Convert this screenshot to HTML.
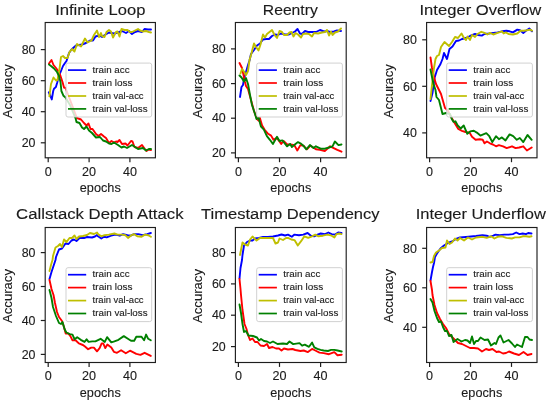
<!DOCTYPE html>
<html><head><meta charset="utf-8"><style>
html,body{margin:0;padding:0;background:#fff;width:550px;height:403px;overflow:hidden}
svg{will-change:transform} svg text{font-family:"Liberation Sans", sans-serif;stroke:#1b1b1b;stroke-width:0.12px}
</style></head><body>
<svg width="550" height="403" viewBox="0 0 550 403" style="display:block">
<rect width="550" height="403" fill="#fff"/>
<clipPath id="c0"><rect x="45.2" y="22.5" width="110.2" height="135.3"/></clipPath>
<g clip-path="url(#c0)" fill="none" stroke-width="1.9" stroke-linejoin="round" stroke-linecap="round">
<polyline points="48.8,92.3 51.0,97.5 51.8,99.4 53.2,91.0 54.0,88.7 55.9,87.1 57.3,82.2 58.5,77.0 61.0,71.0 63.0,66.0 65.0,63.0 66.5,61.0 69.0,53.0 71.5,49.5 76.0,45.5 82.0,44.5 86.0,43.0 90.0,40.5 93.0,40.5 95.5,36.5 99.0,35.5 102.0,37.0 104.0,35.5 109.0,32.5 114.0,33.5 118.0,32.5 122.0,31.0 126.0,33.0 129.0,31.0 132.0,34.0 135.0,32.0 138.0,31.0 142.0,32.0 144.5,29.0 148.0,29.5 151.0,29.5" stroke="#0000ff"/>
<polyline points="49.0,63.5 51.5,60.0 53.5,65.0 56.0,68.0 58.5,71.5 60.5,76.0 62.5,82.0 64.0,87.5 65.5,88.0 72.0,105.0 76.5,117.0 77.0,118.0 81.0,119.5 84.0,123.0 86.5,125.5 88.5,123.5 90.5,129.0 92.5,129.0 96.0,134.0 98.5,136.0 101.0,134.0 104.0,136.5 106.0,138.0 109.0,143.0 111.5,141.0 114.0,142.5 116.0,141.5 117.5,142.0 119.5,140.0 122.0,144.0 125.5,143.5 127.5,145.5 131.0,141.0 132.5,141.5 134.5,147.0 138.0,148.0 142.0,145.0 144.5,148.5 146.5,151.0 148.5,149.5 151.0,150.0" stroke="#ff0000"/>
<polyline points="49.4,96.4 51.0,84.0 53.5,77.5 56.0,80.5 57.5,80.0 59.5,69.0 61.0,57.0 63.0,56.0 65.0,58.0 67.5,58.0 69.5,52.0 72.0,49.0 74.5,51.5 77.0,44.0 81.0,46.5 85.0,38.5 87.5,42.5 91.5,40.5 94.0,35.0 97.0,30.5 99.0,37.0 101.0,33.0 102.0,36.0 104.5,37.0 106.5,32.0 109.0,30.0 111.0,31.5 113.0,37.5 116.0,32.0 117.5,31.5 119.5,36.5 121.5,29.0 124.5,30.0 127.5,30.0 130.0,32.0 132.0,32.0 134.0,31.0 138.0,29.0 140.0,30.5 143.0,31.5 146.0,31.0 149.0,32.0 151.0,32.5" stroke="#bfbf00"/>
<polyline points="49.0,64.5 51.0,66.0 54.0,68.5 57.0,72.0 59.0,76.0 60.5,82.0 61.4,91.0 63.5,95.8 65.5,97.5 70.0,105.0 75.0,117.0 75.5,118.0 76.5,122.0 79.5,123.0 82.0,127.5 84.0,129.0 86.5,126.5 89.0,130.5 92.0,133.0 96.0,137.5 100.0,137.0 103.0,140.5 106.0,141.5 109.0,143.5 111.5,144.0 114.0,142.5 118.0,145.0 121.5,147.5 124.0,146.5 127.0,148.0 132.0,145.0 135.0,147.0 138.0,149.0 143.0,148.0 146.0,150.5 149.0,149.0 151.0,149.0" stroke="#008000"/>
</g>
<rect x="66.0" y="63.1" width="85.7" height="53.9" rx="2" ry="2" fill="#ffffff" fill-opacity="0.8" stroke="#cccccc" stroke-width="0.9"/>
<line x1="68.0" y1="70.1" x2="86.2" y2="70.1" stroke="#0000ff" stroke-width="1.7"/>
<text x="92.6" y="72.8" font-size="9.5" fill="#1b1b1b" textLength="37.0" lengthAdjust="spacingAndGlyphs">train acc</text>
<line x1="68.0" y1="83.0" x2="86.2" y2="83.0" stroke="#ff0000" stroke-width="1.7"/>
<text x="92.6" y="85.8" font-size="9.5" fill="#1b1b1b" textLength="40.0" lengthAdjust="spacingAndGlyphs">train loss</text>
<line x1="68.0" y1="96.0" x2="86.2" y2="96.0" stroke="#bfbf00" stroke-width="1.7"/>
<text x="92.6" y="98.7" font-size="9.5" fill="#1b1b1b" textLength="51.0" lengthAdjust="spacingAndGlyphs">train val-acc</text>
<line x1="68.0" y1="108.9" x2="86.2" y2="108.9" stroke="#008000" stroke-width="1.7"/>
<text x="92.6" y="111.6" font-size="9.5" fill="#1b1b1b" textLength="55.0" lengthAdjust="spacingAndGlyphs">train val-loss</text>
<rect x="45.2" y="22.5" width="110.2" height="135.3" fill="none" stroke="#1e1e1e" stroke-width="1.15"/>
<line x1="40.8" y1="142.8" x2="45.2" y2="142.8" stroke="#1e1e1e" stroke-width="1.2"/>
<text x="35.5" y="147.0" font-size="12.6" fill="#1b1b1b" text-anchor="end" textLength="13.8" lengthAdjust="spacingAndGlyphs">20</text>
<line x1="40.8" y1="111.7" x2="45.2" y2="111.7" stroke="#1e1e1e" stroke-width="1.2"/>
<text x="35.5" y="115.9" font-size="12.6" fill="#1b1b1b" text-anchor="end" textLength="13.8" lengthAdjust="spacingAndGlyphs">40</text>
<line x1="40.8" y1="80.7" x2="45.2" y2="80.7" stroke="#1e1e1e" stroke-width="1.2"/>
<text x="35.5" y="84.9" font-size="12.6" fill="#1b1b1b" text-anchor="end" textLength="13.8" lengthAdjust="spacingAndGlyphs">60</text>
<line x1="40.8" y1="49.6" x2="45.2" y2="49.6" stroke="#1e1e1e" stroke-width="1.2"/>
<text x="35.5" y="53.8" font-size="12.6" fill="#1b1b1b" text-anchor="end" textLength="13.8" lengthAdjust="spacingAndGlyphs">80</text>
<line x1="48.2" y1="157.8" x2="48.2" y2="162.2" stroke="#1e1e1e" stroke-width="1.2"/>
<text x="48.2" y="175.6" font-size="12.6" fill="#1b1b1b" text-anchor="middle" textLength="7" lengthAdjust="spacingAndGlyphs">0</text>
<line x1="89.1" y1="157.8" x2="89.1" y2="162.2" stroke="#1e1e1e" stroke-width="1.2"/>
<text x="89.1" y="175.6" font-size="12.6" fill="#1b1b1b" text-anchor="middle" textLength="14" lengthAdjust="spacingAndGlyphs">20</text>
<line x1="129.9" y1="157.8" x2="129.9" y2="162.2" stroke="#1e1e1e" stroke-width="1.2"/>
<text x="129.9" y="175.6" font-size="12.6" fill="#1b1b1b" text-anchor="middle" textLength="14" lengthAdjust="spacingAndGlyphs">40</text>
<text x="100.3" y="192.1" font-size="12.6" fill="#1b1b1b" text-anchor="middle" textLength="41" lengthAdjust="spacingAndGlyphs">epochs</text>
<text transform="translate(12.0,91.2) rotate(-90)" x="0" y="0" font-size="12.6" fill="#1b1b1b" text-anchor="middle" textLength="54" lengthAdjust="spacingAndGlyphs">Accuracy</text>
<text x="100.3" y="14.9" font-size="14.9" fill="#1b1b1b" text-anchor="middle" textLength="90.2" lengthAdjust="spacingAndGlyphs">Infinite Loop</text>
<clipPath id="c1"><rect x="235.4" y="22.5" width="110.79999999999998" height="135.3"/></clipPath>
<g clip-path="url(#c1)" fill="none" stroke-width="1.9" stroke-linejoin="round" stroke-linecap="round">
<polyline points="240.0,97.0 241.5,87.0 243.0,85.0 244.0,79.0 246.0,72.0 248.0,65.0 249.5,60.5 251.0,54.0 254.0,50.0 257.0,45.5 260.0,43.5 263.0,39.5 266.0,39.0 269.0,39.0 272.0,36.0 275.0,34.5 278.0,35.0 281.0,33.5 285.0,34.5 289.0,34.5 292.0,33.0 295.0,31.5 297.5,29.0 300.0,33.5 302.0,34.0 305.0,31.0 308.0,32.0 312.0,32.0 316.0,32.0 320.0,30.0 324.0,31.5 327.0,31.0 330.0,32.0 334.0,31.5 337.0,30.5 341.0,31.0" stroke="#0000ff"/>
<polyline points="239.5,63.0 242.0,68.0 243.5,75.0 245.0,82.0 246.0,86.0 248.0,89.0 251.0,100.0 254.0,111.0 257.0,119.0 258.6,120.7 259.8,117.7 262.1,125.5 264.5,129.6 268.1,133.8 271.1,135.6 273.5,139.8 276.4,138.0 278.8,140.4 281.2,143.9 283.6,141.0 287.1,144.5 290.7,144.5 294.3,145.1 297.3,150.5 300.4,145.1 303.4,145.7 306.9,149.3 310.5,145.7 315.9,149.3 320.0,149.9 324.8,151.1 330.1,146.3 333.7,148.1 337.3,149.9 341.5,151.7" stroke="#ff0000"/>
<polyline points="240.5,73.5 242.0,69.0 244.0,71.5 246.0,75.0 248.0,71.0 249.5,60.0 251.0,55.0 254.0,43.5 256.0,47.0 258.5,50.5 260.5,44.5 263.0,34.5 265.0,37.5 267.0,34.0 272.0,30.0 274.5,35.0 277.0,38.0 279.5,31.0 282.0,32.0 284.0,35.0 287.0,35.0 289.5,32.5 291.5,32.0 293.5,36.5 295.5,33.0 298.0,34.5 301.0,37.5 303.0,34.0 306.0,33.5 309.0,34.0 312.0,36.5 314.0,33.0 318.0,33.5 322.0,32.5 325.0,32.0 327.0,30.0 329.0,35.5 331.0,31.5 332.5,35.0 335.0,32.5 338.0,31.5 341.0,28.5" stroke="#bfbf00"/>
<polyline points="239.5,75.5 241.5,77.5 244.0,81.5 246.0,78.0 248.0,84.0 250.0,95.0 252.0,105.0 255.0,114.0 256.5,119.0 258.6,117.7 261.0,126.7 263.9,129.6 266.9,136.2 269.9,139.8 272.9,143.9 277.0,136.8 279.4,141.0 282.4,140.4 287.1,146.3 290.1,143.9 291.9,146.9 295.5,143.9 298.0,142.1 300.4,143.3 303.4,145.7 306.3,149.3 309.9,145.1 313.5,148.1 315.9,146.3 320.6,148.7 324.8,148.7 329.0,147.5 332.5,146.3 334.9,141.5 338.5,145.1 341.5,144.5" stroke="#008000"/>
</g>
<rect x="256.7" y="63.1" width="85.7" height="53.9" rx="2" ry="2" fill="#ffffff" fill-opacity="0.8" stroke="#cccccc" stroke-width="0.9"/>
<line x1="258.7" y1="70.1" x2="276.9" y2="70.1" stroke="#0000ff" stroke-width="1.7"/>
<text x="283.3" y="72.8" font-size="9.5" fill="#1b1b1b" textLength="37.0" lengthAdjust="spacingAndGlyphs">train acc</text>
<line x1="258.7" y1="83.0" x2="276.9" y2="83.0" stroke="#ff0000" stroke-width="1.7"/>
<text x="283.3" y="85.8" font-size="9.5" fill="#1b1b1b" textLength="40.0" lengthAdjust="spacingAndGlyphs">train loss</text>
<line x1="258.7" y1="96.0" x2="276.9" y2="96.0" stroke="#bfbf00" stroke-width="1.7"/>
<text x="283.3" y="98.7" font-size="9.5" fill="#1b1b1b" textLength="51.0" lengthAdjust="spacingAndGlyphs">train val-acc</text>
<line x1="258.7" y1="108.9" x2="276.9" y2="108.9" stroke="#008000" stroke-width="1.7"/>
<text x="283.3" y="111.6" font-size="9.5" fill="#1b1b1b" textLength="55.0" lengthAdjust="spacingAndGlyphs">train val-loss</text>
<rect x="235.4" y="22.5" width="110.79999999999998" height="135.3" fill="none" stroke="#1e1e1e" stroke-width="1.15"/>
<line x1="231.0" y1="152.9" x2="235.4" y2="152.9" stroke="#1e1e1e" stroke-width="1.2"/>
<text x="225.7" y="157.1" font-size="12.6" fill="#1b1b1b" text-anchor="end" textLength="13.8" lengthAdjust="spacingAndGlyphs">20</text>
<line x1="231.0" y1="118.2" x2="235.4" y2="118.2" stroke="#1e1e1e" stroke-width="1.2"/>
<text x="225.7" y="122.4" font-size="12.6" fill="#1b1b1b" text-anchor="end" textLength="13.8" lengthAdjust="spacingAndGlyphs">40</text>
<line x1="231.0" y1="83.6" x2="235.4" y2="83.6" stroke="#1e1e1e" stroke-width="1.2"/>
<text x="225.7" y="87.8" font-size="12.6" fill="#1b1b1b" text-anchor="end" textLength="13.8" lengthAdjust="spacingAndGlyphs">60</text>
<line x1="231.0" y1="48.9" x2="235.4" y2="48.9" stroke="#1e1e1e" stroke-width="1.2"/>
<text x="225.7" y="53.1" font-size="12.6" fill="#1b1b1b" text-anchor="end" textLength="13.8" lengthAdjust="spacingAndGlyphs">80</text>
<line x1="238.4" y1="157.8" x2="238.4" y2="162.2" stroke="#1e1e1e" stroke-width="1.2"/>
<text x="238.4" y="175.6" font-size="12.6" fill="#1b1b1b" text-anchor="middle" textLength="7" lengthAdjust="spacingAndGlyphs">0</text>
<line x1="279.5" y1="157.8" x2="279.5" y2="162.2" stroke="#1e1e1e" stroke-width="1.2"/>
<text x="279.5" y="175.6" font-size="12.6" fill="#1b1b1b" text-anchor="middle" textLength="14" lengthAdjust="spacingAndGlyphs">20</text>
<line x1="320.6" y1="157.8" x2="320.6" y2="162.2" stroke="#1e1e1e" stroke-width="1.2"/>
<text x="320.6" y="175.6" font-size="12.6" fill="#1b1b1b" text-anchor="middle" textLength="14" lengthAdjust="spacingAndGlyphs">40</text>
<text x="290.8" y="192.1" font-size="12.6" fill="#1b1b1b" text-anchor="middle" textLength="41" lengthAdjust="spacingAndGlyphs">epochs</text>
<text transform="translate(202.2,91.2) rotate(-90)" x="0" y="0" font-size="12.6" fill="#1b1b1b" text-anchor="middle" textLength="54" lengthAdjust="spacingAndGlyphs">Accuracy</text>
<text x="290.3" y="14.9" font-size="14.9" fill="#1b1b1b" text-anchor="middle" textLength="55.0" lengthAdjust="spacingAndGlyphs">Reentry</text>
<clipPath id="c2"><rect x="426.6" y="22.5" width="110.39999999999998" height="135.3"/></clipPath>
<g clip-path="url(#c2)" fill="none" stroke-width="1.9" stroke-linejoin="round" stroke-linecap="round">
<polyline points="430.5,101.0 432.5,93.0 434.5,78.0 437.0,70.0 440.5,64.0 442.5,59.0 444.0,53.0 447.0,59.0 449.5,49.0 452.5,46.5 456.0,41.0 459.0,40.5 462.0,39.0 466.0,38.0 470.0,36.0 475.0,34.0 478.0,35.0 481.8,35.6 484.5,34.0 488.9,33.5 493.3,32.9 497.6,32.4 502.0,31.3 506.4,30.7 509.6,31.3 512.9,32.4 517.3,29.6 520.0,30.2 523.3,32.9 526.0,30.7 529.3,28.5 532.0,31.3" stroke="#0000ff"/>
<polyline points="430.5,57.5 432.0,68.0 434.0,77.0 436.0,84.0 438.5,89.0 441.0,94.0 443.0,101.0 445.0,108.0 447.5,110.0 451.8,118.3 455.4,124.3 458.3,129.0 461.9,130.8 465.5,132.0 469.6,132.6 472.0,136.8 475.6,139.8 479.8,139.2 482.7,139.8 484.5,143.3 486.9,141.5 489.9,143.3 492.9,144.5 496.0,146.3 498.9,145.1 503.1,146.3 506.7,148.1 512.0,146.3 515.6,148.1 519.2,147.5 523.3,146.3 526.9,150.5 531.7,147.5" stroke="#ff0000"/>
<polyline points="430.5,99.0 432.0,85.0 434.0,68.0 435.5,59.0 437.0,56.0 439.0,55.0 441.0,47.0 444.5,42.0 449.0,46.0 452.0,42.0 455.0,37.0 458.0,38.0 461.5,33.5 464.0,38.0 466.0,40.0 467.5,36.5 470.0,40.0 472.0,35.0 475.0,37.0 477.5,34.0 481.3,31.8 484.5,32.9 487.3,34.5 490.0,32.9 493.3,34.5 497.6,32.9 502.0,31.3 503.6,33.5 505.8,32.4 508.5,34.0 512.9,34.5 517.3,33.5 520.5,30.7 523.8,30.7 527.1,30.2 530.4,29.6 532.0,30.7" stroke="#bfbf00"/>
<polyline points="430.5,69.5 432.0,77.0 433.5,84.0 435.5,90.0 436.5,97.0 439.0,100.0 442.5,114.0 446.0,113.0 450.0,114.0 451.8,118.9 453.6,121.9 455.4,121.3 457.7,125.5 460.7,128.5 463.7,125.5 467.3,133.8 470.2,131.4 473.8,130.8 476.8,132.6 480.4,135.6 483.3,134.4 486.3,133.2 489.3,136.2 492.3,142.1 496.0,136.2 498.9,139.2 501.9,137.4 505.5,140.4 509.6,134.4 513.2,136.2 516.8,139.8 519.8,138.0 523.3,142.1 527.5,135.0 531.7,139.8" stroke="#008000"/>
</g>
<rect x="446.7" y="63.1" width="85.7" height="53.9" rx="2" ry="2" fill="#ffffff" fill-opacity="0.8" stroke="#cccccc" stroke-width="0.9"/>
<line x1="448.7" y1="70.1" x2="466.9" y2="70.1" stroke="#0000ff" stroke-width="1.7"/>
<text x="473.3" y="72.8" font-size="9.5" fill="#1b1b1b" textLength="37.0" lengthAdjust="spacingAndGlyphs">train acc</text>
<line x1="448.7" y1="83.0" x2="466.9" y2="83.0" stroke="#ff0000" stroke-width="1.7"/>
<text x="473.3" y="85.8" font-size="9.5" fill="#1b1b1b" textLength="40.0" lengthAdjust="spacingAndGlyphs">train loss</text>
<line x1="448.7" y1="96.0" x2="466.9" y2="96.0" stroke="#bfbf00" stroke-width="1.7"/>
<text x="473.3" y="98.7" font-size="9.5" fill="#1b1b1b" textLength="51.0" lengthAdjust="spacingAndGlyphs">train val-acc</text>
<line x1="448.7" y1="108.9" x2="466.9" y2="108.9" stroke="#008000" stroke-width="1.7"/>
<text x="473.3" y="111.6" font-size="9.5" fill="#1b1b1b" textLength="55.0" lengthAdjust="spacingAndGlyphs">train val-loss</text>
<rect x="426.6" y="22.5" width="110.39999999999998" height="135.3" fill="none" stroke="#1e1e1e" stroke-width="1.15"/>
<line x1="422.2" y1="132.9" x2="426.6" y2="132.9" stroke="#1e1e1e" stroke-width="1.2"/>
<text x="416.9" y="137.1" font-size="12.6" fill="#1b1b1b" text-anchor="end" textLength="13.8" lengthAdjust="spacingAndGlyphs">40</text>
<line x1="422.2" y1="86.3" x2="426.6" y2="86.3" stroke="#1e1e1e" stroke-width="1.2"/>
<text x="416.9" y="90.5" font-size="12.6" fill="#1b1b1b" text-anchor="end" textLength="13.8" lengthAdjust="spacingAndGlyphs">60</text>
<line x1="422.2" y1="39.8" x2="426.6" y2="39.8" stroke="#1e1e1e" stroke-width="1.2"/>
<text x="416.9" y="44.0" font-size="12.6" fill="#1b1b1b" text-anchor="end" textLength="13.8" lengthAdjust="spacingAndGlyphs">80</text>
<line x1="429.6" y1="157.8" x2="429.6" y2="162.2" stroke="#1e1e1e" stroke-width="1.2"/>
<text x="429.6" y="175.6" font-size="12.6" fill="#1b1b1b" text-anchor="middle" textLength="7" lengthAdjust="spacingAndGlyphs">0</text>
<line x1="470.5" y1="157.8" x2="470.5" y2="162.2" stroke="#1e1e1e" stroke-width="1.2"/>
<text x="470.5" y="175.6" font-size="12.6" fill="#1b1b1b" text-anchor="middle" textLength="14" lengthAdjust="spacingAndGlyphs">20</text>
<line x1="511.5" y1="157.8" x2="511.5" y2="162.2" stroke="#1e1e1e" stroke-width="1.2"/>
<text x="511.5" y="175.6" font-size="12.6" fill="#1b1b1b" text-anchor="middle" textLength="14" lengthAdjust="spacingAndGlyphs">40</text>
<text x="481.8" y="192.1" font-size="12.6" fill="#1b1b1b" text-anchor="middle" textLength="41" lengthAdjust="spacingAndGlyphs">epochs</text>
<text transform="translate(393.4,91.2) rotate(-90)" x="0" y="0" font-size="12.6" fill="#1b1b1b" text-anchor="middle" textLength="54" lengthAdjust="spacingAndGlyphs">Accuracy</text>
<text x="480.4" y="14.9" font-size="14.9" fill="#1b1b1b" text-anchor="middle" textLength="121.8" lengthAdjust="spacingAndGlyphs">Integer Overflow</text>
<clipPath id="c3"><rect x="45.2" y="227.5" width="110.2" height="135.0"/></clipPath>
<g clip-path="url(#c3)" fill="none" stroke-width="1.9" stroke-linejoin="round" stroke-linecap="round">
<polyline points="49.5,279.0 51.5,272.0 53.5,266.0 55.5,260.0 56.0,257.0 59.0,249.5 62.0,248.5 65.5,243.5 68.5,244.0 71.5,240.5 74.0,239.5 76.5,241.0 79.5,238.0 84.0,238.0 87.0,237.0 92.0,237.5 95.0,236.5 97.0,235.0 98.0,236.3 101.3,238.5 104.0,236.8 106.7,237.4 111.1,235.7 115.5,234.6 119.8,235.7 123.1,234.1 127.5,235.2 130.7,235.7 134.0,234.1 138.4,234.1 142.7,235.2 147.1,234.1 150.9,233.0" stroke="#0000ff"/>
<polyline points="49.5,280.0 51.5,289.0 53.5,295.0 55.0,303.0 57.0,312.0 59.0,317.0 62.0,321.0 64.0,327.0 65.7,333.5 68.3,333.5 70.4,336.1 72.5,340.3 75.6,340.3 78.8,343.4 82.9,345.0 85.0,346.6 88.1,349.2 91.3,347.6 93.9,347.6 97.0,351.3 99.6,348.1 101.7,343.4 103.2,343.4 105.3,348.1 107.4,344.5 111.3,347.6 113.9,351.8 117.0,352.8 121.1,350.2 125.8,353.3 130.0,350.7 136.3,353.9 140.4,354.9 144.6,352.8 150.8,355.9" stroke="#ff0000"/>
<polyline points="49.5,271.0 51.0,265.0 52.5,260.0 53.0,256.0 55.5,247.5 58.0,246.0 60.0,244.0 62.0,247.0 64.0,239.5 66.5,242.0 69.5,238.0 72.0,238.0 74.5,235.5 76.5,239.0 79.0,236.5 83.0,236.0 87.0,235.0 90.0,233.0 94.0,234.0 97.0,232.5 98.0,234.1 101.3,236.3 104.5,235.2 108.9,234.6 114.4,233.5 117.6,234.6 122.0,234.6 125.3,235.2 128.0,237.9 130.7,235.7 134.0,234.1 137.3,236.3 141.6,236.8 144.9,234.6 148.2,235.2 150.9,236.8" stroke="#bfbf00"/>
<polyline points="49.5,290.0 51.5,298.0 53.0,307.0 56.0,316.0 59.0,323.0 61.0,324.0 62.5,322.0 64.5,329.0 66.3,332.5 69.9,334.1 72.5,334.6 74.6,339.3 77.2,337.2 80.8,339.8 84.5,341.9 86.6,339.3 88.6,341.9 92.3,341.4 95.4,341.4 100.6,338.8 104.8,341.9 107.1,337.2 111.3,342.4 114.4,341.4 118.5,339.8 123.8,336.1 127.9,338.8 131.0,340.8 134.2,340.8 136.3,336.7 141.5,336.7 144.1,340.3 146.1,334.6 148.2,338.8 150.8,340.3" stroke="#008000"/>
</g>
<rect x="66.0" y="267.7" width="85.7" height="53.9" rx="2" ry="2" fill="#ffffff" fill-opacity="0.8" stroke="#cccccc" stroke-width="0.9"/>
<line x1="68.0" y1="274.7" x2="86.2" y2="274.7" stroke="#0000ff" stroke-width="1.7"/>
<text x="92.6" y="277.4" font-size="9.5" fill="#1b1b1b" textLength="37.0" lengthAdjust="spacingAndGlyphs">train acc</text>
<line x1="68.0" y1="287.6" x2="86.2" y2="287.6" stroke="#ff0000" stroke-width="1.7"/>
<text x="92.6" y="290.3" font-size="9.5" fill="#1b1b1b" textLength="40.0" lengthAdjust="spacingAndGlyphs">train loss</text>
<line x1="68.0" y1="300.6" x2="86.2" y2="300.6" stroke="#bfbf00" stroke-width="1.7"/>
<text x="92.6" y="303.3" font-size="9.5" fill="#1b1b1b" textLength="51.0" lengthAdjust="spacingAndGlyphs">train val-acc</text>
<line x1="68.0" y1="313.5" x2="86.2" y2="313.5" stroke="#008000" stroke-width="1.7"/>
<text x="92.6" y="316.2" font-size="9.5" fill="#1b1b1b" textLength="55.0" lengthAdjust="spacingAndGlyphs">train val-loss</text>
<rect x="45.2" y="227.5" width="110.2" height="135.0" fill="none" stroke="#1e1e1e" stroke-width="1.15"/>
<line x1="40.8" y1="354.4" x2="45.2" y2="354.4" stroke="#1e1e1e" stroke-width="1.2"/>
<text x="35.5" y="358.6" font-size="12.6" fill="#1b1b1b" text-anchor="end" textLength="13.8" lengthAdjust="spacingAndGlyphs">20</text>
<line x1="40.8" y1="320.5" x2="45.2" y2="320.5" stroke="#1e1e1e" stroke-width="1.2"/>
<text x="35.5" y="324.7" font-size="12.6" fill="#1b1b1b" text-anchor="end" textLength="13.8" lengthAdjust="spacingAndGlyphs">40</text>
<line x1="40.8" y1="286.5" x2="45.2" y2="286.5" stroke="#1e1e1e" stroke-width="1.2"/>
<text x="35.5" y="290.7" font-size="12.6" fill="#1b1b1b" text-anchor="end" textLength="13.8" lengthAdjust="spacingAndGlyphs">60</text>
<line x1="40.8" y1="252.6" x2="45.2" y2="252.6" stroke="#1e1e1e" stroke-width="1.2"/>
<text x="35.5" y="256.8" font-size="12.6" fill="#1b1b1b" text-anchor="end" textLength="13.8" lengthAdjust="spacingAndGlyphs">80</text>
<line x1="48.2" y1="362.5" x2="48.2" y2="366.9" stroke="#1e1e1e" stroke-width="1.2"/>
<text x="48.2" y="380.3" font-size="12.6" fill="#1b1b1b" text-anchor="middle" textLength="7" lengthAdjust="spacingAndGlyphs">0</text>
<line x1="89.1" y1="362.5" x2="89.1" y2="366.9" stroke="#1e1e1e" stroke-width="1.2"/>
<text x="89.1" y="380.3" font-size="12.6" fill="#1b1b1b" text-anchor="middle" textLength="14" lengthAdjust="spacingAndGlyphs">20</text>
<line x1="129.9" y1="362.5" x2="129.9" y2="366.9" stroke="#1e1e1e" stroke-width="1.2"/>
<text x="129.9" y="380.3" font-size="12.6" fill="#1b1b1b" text-anchor="middle" textLength="14" lengthAdjust="spacingAndGlyphs">40</text>
<text x="100.3" y="396.8" font-size="12.6" fill="#1b1b1b" text-anchor="middle" textLength="41" lengthAdjust="spacingAndGlyphs">epochs</text>
<text transform="translate(12.0,296.0) rotate(-90)" x="0" y="0" font-size="12.6" fill="#1b1b1b" text-anchor="middle" textLength="54" lengthAdjust="spacingAndGlyphs">Accuracy</text>
<text x="99.8" y="218.7" font-size="14.9" fill="#1b1b1b" text-anchor="middle" textLength="167.5" lengthAdjust="spacingAndGlyphs">Callstack Depth Attack</text>
<clipPath id="c4"><rect x="235.4" y="227.5" width="110.79999999999998" height="135.0"/></clipPath>
<g clip-path="url(#c4)" fill="none" stroke-width="1.9" stroke-linejoin="round" stroke-linecap="round">
<polyline points="239.5,278.5 240.5,268.0 242.0,260.0 242.5,255.0 244.0,245.5 247.0,242.0 250.0,240.5 252.5,240.5 255.0,238.5 259.0,238.0 263.0,237.0 268.0,237.0 273.0,236.5 278.0,235.5 281.5,234.5 285.0,235.5 288.0,234.6 291.8,236.8 294.5,234.6 298.9,235.2 303.3,234.6 307.6,233.0 310.9,235.7 314.2,236.3 317.5,234.6 320.7,233.5 325.1,234.1 328.4,232.5 331.6,234.1 334.9,234.6 338.2,232.5 341.5,233.0" stroke="#0000ff"/>
<polyline points="239.5,279.0 240.5,289.0 241.0,295.0 242.5,310.0 244.5,324.0 246.5,329.0 248.0,335.0 250.0,340.0 252.5,338.5 255.0,342.0 257.5,342.0 260.5,345.5 264.0,346.0 267.0,344.0 269.0,348.0 272.5,347.0 276.0,348.5 279.0,348.5 281.5,350.5 284.0,348.5 288.0,349.5 292.5,349.0 295.3,350.0 300.5,351.0 303.7,350.5 307.9,352.1 312.1,348.9 315.3,350.5 319.5,352.6 323.7,353.1 329.0,354.2 334.3,352.1 337.5,355.2 341.7,354.7" stroke="#ff0000"/>
<polyline points="240.0,255.0 242.5,242.5 245.0,244.5 248.0,245.5 250.0,239.5 252.5,236.5 256.5,240.5 260.0,238.0 265.0,238.0 270.0,238.0 273.0,238.0 275.5,243.5 278.0,242.5 279.5,238.5 283.0,240.0 286.0,238.0 288.0,237.9 291.3,239.5 294.5,240.1 297.8,245.5 301.1,241.2 304.4,236.3 308.2,237.9 312.0,236.3 315.3,234.6 318.5,236.3 322.9,235.7 327.3,234.6 331.6,235.7 334.4,237.4 336.5,234.1 339.3,233.5 341.5,234.1" stroke="#bfbf00"/>
<polyline points="239.5,304.5 241.0,313.0 242.5,324.0 244.0,332.0 246.0,331.0 248.5,335.5 253.0,336.0 257.0,337.5 259.0,340.5 261.0,339.0 264.0,341.0 267.0,341.5 270.0,343.0 273.0,341.5 277.5,344.0 283.0,343.5 287.0,344.0 289.5,341.5 293.2,344.1 296.3,343.6 299.5,343.1 302.1,345.7 304.8,344.7 309.0,346.8 312.1,342.6 314.3,347.3 317.4,348.9 320.6,349.9 323.7,350.5 328.0,351.0 331.1,349.9 334.3,349.9 337.5,350.5 341.7,351.5" stroke="#008000"/>
</g>
<rect x="256.7" y="267.7" width="85.7" height="53.9" rx="2" ry="2" fill="#ffffff" fill-opacity="0.8" stroke="#cccccc" stroke-width="0.9"/>
<line x1="258.7" y1="274.7" x2="276.9" y2="274.7" stroke="#0000ff" stroke-width="1.7"/>
<text x="283.3" y="277.4" font-size="9.5" fill="#1b1b1b" textLength="37.0" lengthAdjust="spacingAndGlyphs">train acc</text>
<line x1="258.7" y1="287.6" x2="276.9" y2="287.6" stroke="#ff0000" stroke-width="1.7"/>
<text x="283.3" y="290.3" font-size="9.5" fill="#1b1b1b" textLength="40.0" lengthAdjust="spacingAndGlyphs">train loss</text>
<line x1="258.7" y1="300.6" x2="276.9" y2="300.6" stroke="#bfbf00" stroke-width="1.7"/>
<text x="283.3" y="303.3" font-size="9.5" fill="#1b1b1b" textLength="51.0" lengthAdjust="spacingAndGlyphs">train val-acc</text>
<line x1="258.7" y1="313.5" x2="276.9" y2="313.5" stroke="#008000" stroke-width="1.7"/>
<text x="283.3" y="316.2" font-size="9.5" fill="#1b1b1b" textLength="55.0" lengthAdjust="spacingAndGlyphs">train val-loss</text>
<rect x="235.4" y="227.5" width="110.79999999999998" height="135.0" fill="none" stroke="#1e1e1e" stroke-width="1.15"/>
<line x1="231.0" y1="346.6" x2="235.4" y2="346.6" stroke="#1e1e1e" stroke-width="1.2"/>
<text x="225.7" y="350.8" font-size="12.6" fill="#1b1b1b" text-anchor="end" textLength="13.8" lengthAdjust="spacingAndGlyphs">20</text>
<line x1="231.0" y1="315.2" x2="235.4" y2="315.2" stroke="#1e1e1e" stroke-width="1.2"/>
<text x="225.7" y="319.4" font-size="12.6" fill="#1b1b1b" text-anchor="end" textLength="13.8" lengthAdjust="spacingAndGlyphs">40</text>
<line x1="231.0" y1="283.9" x2="235.4" y2="283.9" stroke="#1e1e1e" stroke-width="1.2"/>
<text x="225.7" y="288.1" font-size="12.6" fill="#1b1b1b" text-anchor="end" textLength="13.8" lengthAdjust="spacingAndGlyphs">60</text>
<line x1="231.0" y1="252.6" x2="235.4" y2="252.6" stroke="#1e1e1e" stroke-width="1.2"/>
<text x="225.7" y="256.8" font-size="12.6" fill="#1b1b1b" text-anchor="end" textLength="13.8" lengthAdjust="spacingAndGlyphs">80</text>
<line x1="238.4" y1="362.5" x2="238.4" y2="366.9" stroke="#1e1e1e" stroke-width="1.2"/>
<text x="238.4" y="380.3" font-size="12.6" fill="#1b1b1b" text-anchor="middle" textLength="7" lengthAdjust="spacingAndGlyphs">0</text>
<line x1="279.5" y1="362.5" x2="279.5" y2="366.9" stroke="#1e1e1e" stroke-width="1.2"/>
<text x="279.5" y="380.3" font-size="12.6" fill="#1b1b1b" text-anchor="middle" textLength="14" lengthAdjust="spacingAndGlyphs">20</text>
<line x1="320.6" y1="362.5" x2="320.6" y2="366.9" stroke="#1e1e1e" stroke-width="1.2"/>
<text x="320.6" y="380.3" font-size="12.6" fill="#1b1b1b" text-anchor="middle" textLength="14" lengthAdjust="spacingAndGlyphs">40</text>
<text x="290.8" y="396.8" font-size="12.6" fill="#1b1b1b" text-anchor="middle" textLength="41" lengthAdjust="spacingAndGlyphs">epochs</text>
<text transform="translate(202.2,296.0) rotate(-90)" x="0" y="0" font-size="12.6" fill="#1b1b1b" text-anchor="middle" textLength="54" lengthAdjust="spacingAndGlyphs">Accuracy</text>
<text x="290.3" y="218.7" font-size="14.9" fill="#1b1b1b" text-anchor="middle" textLength="178.5" lengthAdjust="spacingAndGlyphs">Timestamp Dependency</text>
<clipPath id="c5"><rect x="426.6" y="227.5" width="110.39999999999998" height="135.0"/></clipPath>
<g clip-path="url(#c5)" fill="none" stroke-width="1.9" stroke-linejoin="round" stroke-linecap="round">
<polyline points="430.5,280.5 432.0,272.0 433.0,267.0 434.0,263.0 435.0,257.0 437.0,253.5 440.5,248.5 444.0,245.5 448.0,243.0 452.0,241.5 456.0,239.0 460.0,237.5 466.0,237.0 471.0,236.5 476.0,236.0 482.4,235.2 486.7,235.7 489.5,236.8 493.3,235.7 495.5,234.6 499.8,235.2 504.2,234.6 508.5,234.6 512.9,234.1 516.2,232.5 519.5,234.1 522.7,233.5 526.0,234.1 528.2,233.0 531.5,233.5" stroke="#0000ff"/>
<polyline points="430.5,281.0 432.0,290.0 432.5,295.0 434.5,305.0 437.0,313.0 440.0,319.0 443.0,324.0 446.0,328.0 449.0,334.0 453.0,338.0 458.0,343.0 462.0,344.0 466.0,346.0 470.0,348.0 474.0,348.0 478.0,348.5 482.0,351.5 486.0,349.0 489.0,350.0 492.5,349.0 496.5,352.0 499.0,351.5 503.0,353.5 506.0,353.0 509.0,351.5 514.0,353.5 519.0,355.0 523.5,352.0 527.5,355.0 531.5,354.0" stroke="#ff0000"/>
<polyline points="430.5,262.5 432.5,262.0 434.0,256.0 436.0,252.5 439.0,250.5 442.0,248.0 445.5,247.5 447.0,240.5 449.5,244.0 452.0,242.5 455.0,238.5 457.5,240.5 460.0,238.0 464.0,240.5 468.0,237.5 472.0,239.5 476.0,237.5 482.4,236.8 486.7,237.9 491.1,236.3 494.4,238.5 497.6,236.8 502.0,236.3 506.4,237.9 511.8,238.5 515.1,237.4 519.5,237.4 522.7,236.3 526.0,236.3 529.3,236.8 531.5,236.3" stroke="#bfbf00"/>
<polyline points="430.5,299.0 432.5,302.5 434.5,311.0 437.0,318.0 439.0,322.0 441.0,321.5 443.0,327.0 445.0,331.0 447.0,331.0 449.0,336.0 451.5,335.0 453.5,342.0 457.5,339.0 461.5,341.5 465.0,340.0 467.5,340.5 470.0,343.0 472.0,336.5 474.0,344.0 476.0,341.0 478.0,341.0 480.5,337.5 484.5,340.0 488.0,339.5 491.0,345.5 494.5,343.0 496.0,344.0 498.5,337.5 500.5,335.5 503.5,342.5 508.5,340.0 512.0,343.5 515.0,347.0 517.0,344.5 522.0,347.0 525.0,337.0 527.5,337.0 529.5,339.5 532.0,340.0" stroke="#008000"/>
</g>
<rect x="446.7" y="267.7" width="85.7" height="53.9" rx="2" ry="2" fill="#ffffff" fill-opacity="0.8" stroke="#cccccc" stroke-width="0.9"/>
<line x1="448.7" y1="274.7" x2="466.9" y2="274.7" stroke="#0000ff" stroke-width="1.7"/>
<text x="473.3" y="277.4" font-size="9.5" fill="#1b1b1b" textLength="37.0" lengthAdjust="spacingAndGlyphs">train acc</text>
<line x1="448.7" y1="287.6" x2="466.9" y2="287.6" stroke="#ff0000" stroke-width="1.7"/>
<text x="473.3" y="290.3" font-size="9.5" fill="#1b1b1b" textLength="40.0" lengthAdjust="spacingAndGlyphs">train loss</text>
<line x1="448.7" y1="300.6" x2="466.9" y2="300.6" stroke="#bfbf00" stroke-width="1.7"/>
<text x="473.3" y="303.3" font-size="9.5" fill="#1b1b1b" textLength="51.0" lengthAdjust="spacingAndGlyphs">train val-acc</text>
<line x1="448.7" y1="313.5" x2="466.9" y2="313.5" stroke="#008000" stroke-width="1.7"/>
<text x="473.3" y="316.2" font-size="9.5" fill="#1b1b1b" textLength="55.0" lengthAdjust="spacingAndGlyphs">train val-loss</text>
<rect x="426.6" y="227.5" width="110.39999999999998" height="135.0" fill="none" stroke="#1e1e1e" stroke-width="1.15"/>
<line x1="422.2" y1="327.3" x2="426.6" y2="327.3" stroke="#1e1e1e" stroke-width="1.2"/>
<text x="416.9" y="331.5" font-size="12.6" fill="#1b1b1b" text-anchor="end" textLength="13.8" lengthAdjust="spacingAndGlyphs">40</text>
<line x1="422.2" y1="287.8" x2="426.6" y2="287.8" stroke="#1e1e1e" stroke-width="1.2"/>
<text x="416.9" y="292.0" font-size="12.6" fill="#1b1b1b" text-anchor="end" textLength="13.8" lengthAdjust="spacingAndGlyphs">60</text>
<line x1="422.2" y1="248.3" x2="426.6" y2="248.3" stroke="#1e1e1e" stroke-width="1.2"/>
<text x="416.9" y="252.5" font-size="12.6" fill="#1b1b1b" text-anchor="end" textLength="13.8" lengthAdjust="spacingAndGlyphs">80</text>
<line x1="429.6" y1="362.5" x2="429.6" y2="366.9" stroke="#1e1e1e" stroke-width="1.2"/>
<text x="429.6" y="380.3" font-size="12.6" fill="#1b1b1b" text-anchor="middle" textLength="7" lengthAdjust="spacingAndGlyphs">0</text>
<line x1="470.5" y1="362.5" x2="470.5" y2="366.9" stroke="#1e1e1e" stroke-width="1.2"/>
<text x="470.5" y="380.3" font-size="12.6" fill="#1b1b1b" text-anchor="middle" textLength="14" lengthAdjust="spacingAndGlyphs">20</text>
<line x1="511.5" y1="362.5" x2="511.5" y2="366.9" stroke="#1e1e1e" stroke-width="1.2"/>
<text x="511.5" y="380.3" font-size="12.6" fill="#1b1b1b" text-anchor="middle" textLength="14" lengthAdjust="spacingAndGlyphs">40</text>
<text x="481.8" y="396.8" font-size="12.6" fill="#1b1b1b" text-anchor="middle" textLength="41" lengthAdjust="spacingAndGlyphs">epochs</text>
<text transform="translate(393.4,296.0) rotate(-90)" x="0" y="0" font-size="12.6" fill="#1b1b1b" text-anchor="middle" textLength="54" lengthAdjust="spacingAndGlyphs">Accuracy</text>
<text x="480.8" y="218.7" font-size="14.9" fill="#1b1b1b" text-anchor="middle" textLength="130.2" lengthAdjust="spacingAndGlyphs">Integer Underflow</text>
</svg>
</body></html>
